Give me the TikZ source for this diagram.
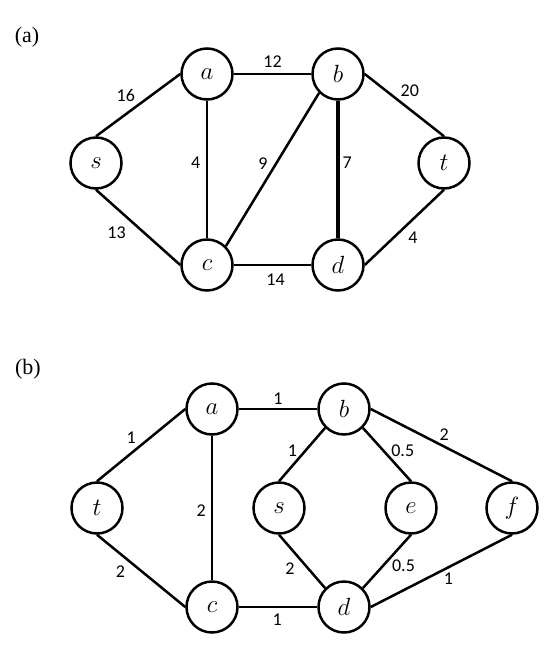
\documentclass[tikz,border=0pt]{standalone}
\usepackage{fontspec}
\newfontfamily\lblfont{Carlito}
\newfontfamily\capfont{Liberation Serif}
\usepackage{tikz}
\usetikzlibrary{positioning}

\begin{document}
\begin{tikzpicture}[x=1pt, y=-1pt]
    % Styles
    \tikzstyle{vertex} = [circle, draw, line width=2.5pt, minimum size=51pt, inner sep=0pt, font=\fontsize{24}{24}\selectfont]
    \tikzstyle{edge} = [line width=2.5pt]
    \tikzstyle{wt} = [inner sep=1pt, font=\lblfont\fontsize{18}{18}\selectfont]
    \tikzstyle{caption} = [inner sep=0pt, font=\capfont\fontsize{22}{22}\selectfont]

    \useasboundingbox (0,0) rectangle (556,668);

    % Graph (a)
    \node (capa) [caption] at (27,37) {(a)};
    \node (aa) [vertex] at (207,74) {$a$};
    \node (ab) [vertex, right=77.5pt of aa] {$b$};
    \node (ac) [vertex, below=137.5pt of aa] {$c$};
    \node (ad) [vertex, below=137.5pt of ab] {$d$};
    \node (as) [vertex] at (96,163) {$s$};
    \node (at) [vertex] at (444,163) {$t$};

    \draw [edge] (as.north) -- node[wt, pos=.5, above left=1.5pt and 1pt] {16} (aa.west);
    \draw [edge] (as.south) -- node[wt, pos=.42, below left=3.5pt and 3.5pt] {13} (ac.west);
    \draw [edge] (aa) -- node[wt, above=4.5pt] {12} (ab);
    \draw [edge] (aa) -- node[wt, pos=.45, left=4.5pt] {4} (ac);
    \draw [edge] (ac.north east) -- node[wt, pos=.54, left=6.5pt] {9} (ab.south west);
    \draw [edge, line width=3.2pt] (ab) -- node[wt, pos=.45, right=2pt] {7} (ad);
    \draw [edge] (ac) -- node[wt, pos=.54, below=6.5pt] {14} (ad);
    \draw [edge] (ab.east) -- node[wt, pos=.4, above right=0pt and 2pt] {20} (at.north);
    \draw [edge] (ad.east) -- node[wt, pos=.49, below right=1.5pt and 2.5pt] {4} (at.south);

    % Graph (b)
    \node (capb) [caption] at (28,369) {(b)};
    \node (ba) [vertex] at (212,409) {$a$};
    \node (bb) [vertex, right=78.5pt of ba] {$b$};
    \node (bc) [vertex, below=144.5pt of ba] {$c$};
    \node (bd) [vertex, below=144.5pt of bb] {$d$};
    \node (bt) [vertex] at (97,508) {$t$};
    \node (bs) [vertex] at (279,508) {$s$};
    \node (be) [vertex] at (411,508) {$e$};
    \node (bf) [vertex] at (512,508) {$f$};

    \draw [edge] (bt.north) -- node[wt, pos=.47, above left=1.5pt and 0.5pt] {1} (ba.west);
    \draw [edge] (bt.south) -- node[wt, pos=.36, below left=2.5pt and 1.5pt] {2} (bc.west);
    \draw [edge] (ba) -- node[wt, above=2pt] {1} (bb);
    \draw [edge] (ba) -- node[wt, pos=.52, left=4pt] {2} (bc);
    \draw [edge] (bc) -- node[wt, pos=.49, below=5pt] {1} (bd);
    \draw [edge] (bb.south west) -- node[wt, pos=.42, left=6.5pt] {1} (bs.north);
    \draw [edge] (bb.south east) -- node[wt, pos=.43, right=5.5pt] {0.5} (be.north);
    \draw [edge] (bb.east) -- node[wt, pos=.52, above=4pt] {2} (bf.north);
    \draw [edge] (bs.south) -- node[wt, pos=.46, below left=1pt and 3.5pt] {2} (bd.north west);
    \draw [edge] (be.south) -- node[wt, pos=.575, right=6.5pt] {0.5} (bd.north east);
    \draw [edge] (bf.south) -- node[wt, pos=.45, below=3.5pt] {1} (bd.east);

\end{tikzpicture}
\end{document}
